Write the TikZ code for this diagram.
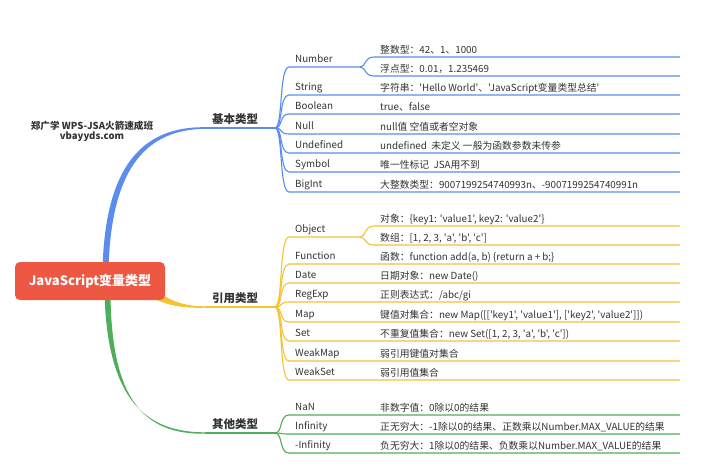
\documentclass[tikz,border=0pt]{standalone}
\usepackage{fontspec}
\newfontfamily\cjkf{Noto Sans CJK SC}
\setmainfont{Noto Sans CJK SC}
\definecolor{blueB}{HTML}{5B8DEF}
\definecolor{yellowB}{HTML}{F5C232}
\definecolor{greenB}{HTML}{4DAF5A}
\definecolor{redN}{HTML}{EE5843}
\definecolor{txtC}{HTML}{333333}
\tikzset{
  conn/.style={line width=1.1pt},
  txt/.style={font=\cjkf\fontsize{9.8}{11}\selectfont, text=txtC, inner sep=0pt, anchor=base west},
  grp/.style={font=\cjkf\fontsize{11.5}{13}\selectfont\bfseries, text=txtC, inner sep=0pt, anchor=base west},
}
% #1 colour, #2 hub x, #3 hub y, #4 row y, #5 key, #6 value
\newcommand\leafrow[6]{%
  \coordinate (s#4) at (289,#4);
  \coordinate (e#4) at (680,#4);
  \draw[#1, conn] (h#3) .. controls (283,#3) and (279,#4) .. (s#4) -- (e#4);
  \node[txt] (k#4) at (295,#4-4.5) {#5};
  \node[txt] (v#4) at (380,#4-4) {#6};
}
% sub row for Number / Object: #1 colour, #2 parent y, #3 row y, #4 value
\newcommand\subrow[4]{%
  \coordinate (t#3) at (374,#3);
  \coordinate (f#3) at (680,#3);
  \draw[#1, conn] (p#2) .. controls (366,#2) and (364,#3) .. (t#3) -- (f#3);
  \node[txt] (v#3) at (380,#3-4) {#4};
}
\begin{document}
\begin{tikzpicture}[x=1pt,y=-1pt]
\useasboundingbox (0,0) rectangle (720,475);
\fill[white] (0,0) rectangle (720,475);

% main branches (tapered)
\fill[blueB] (102.5,270) .. controls (105,160) and (147,126.6) .. (205,127.2)
   -- (205,128.8) .. controls (149,129.6) and (111,164) .. (108.5,270) -- cycle;
\fill[yellowB] (155,290) .. controls (172,302) and (185,306.2) .. (205,306.3)
   -- (205,307.7) .. controls (183,308.5) and (166,305) .. (153,298) -- cycle;
\fill[greenB] (104.5,292) .. controls (107,400) and (146,432.4) .. (205,432.3)
   -- (205,433.7) .. controls (144,434.6) and (111,400) .. (110.5,292) -- cycle;

\coordinate (g1) at (205,128);
\coordinate (h128) at (275,128);
\draw[blueB, line width=1.6pt] (g1) -- (h128);
\coordinate (g2) at (205,307);
\coordinate (h307) at (275,307);
\draw[yellowB, line width=1.6pt] (g2) -- (h307);
\coordinate (g3) at (205,433);
\coordinate (h433) at (275,433);
\draw[greenB, line width=1.6pt] (g3) -- (h433);

\node[grp] (basic) at (212,123) {基本类型};
\node[grp] (ref) at (212,302) {引用类型};
\node[grp] (oth) at (212,428) {其他类型};

% central node
\node[fill=redN, rounded corners=5pt, minimum width=150pt, minimum height=38pt,
  text=white, font=\cjkf\fontsize{13}{15}\selectfont\bfseries] (root) at (90,281) {JavaScript变量类型};

% author
\node[font=\cjkf\fontsize{9.6}{11}\selectfont\bfseries, text=txtC, align=center, inner sep=0pt] (auth) at (92,131)
  {郑广学 WPS-JSA火箭速成班\\[-1pt]vbayyds.com};

% ---------- basic types ----------
\coordinate (s67) at (289,67);
\coordinate (p67) at (360,67);
\draw[blueB, conn] (h128) .. controls (283,128) and (279,67) .. (s67) -- (p67);
\node[txt] (k67) at (295,62.5) {Number};
\subrow{blueB}{67}{57}{整数型：42、1、1000}
\subrow{blueB}{67}{76}{浮点型：0.01，1.235469}
\leafrow{blueB}{275}{128}{95}{String}{字符串：'Hello World'、'JavaScript变量类型总结'}
\leafrow{blueB}{275}{128}{114}{Boolean}{true、false}
\leafrow{blueB}{275}{128}{134}{Null}{null值 空值或者空对象}
\leafrow{blueB}{275}{128}{153}{Undefined}{undefined\ \ 未定义 一般为函数参数未传参}
\leafrow{blueB}{275}{128}{172}{Symbol}{唯一性标记\ \ JSA用不到}
\leafrow{blueB}{275}{128}{192}{BigInt}{大整数类型：9007199254740993n、-9007199254740991n}

% ---------- reference types ----------
\coordinate (s237) at (289,237);
\coordinate (p237) at (360,237);
\draw[yellowB, conn] (h307) .. controls (283,307) and (279,237) .. (s237) -- (p237);
\node[txt] (k237) at (295,232.5) {Object};
\subrow{yellowB}{237}{226}{对象：\{key1: 'value1', key2: 'value2'\}}
\subrow{yellowB}{237}{245}{数组：[1, 2, 3, 'a', 'b', 'c']}
\leafrow{yellowB}{275}{307}{264}{Function}{函数：function add(a, b) \{return a + b;\}}
\leafrow{yellowB}{275}{307}{283}{Date}{日期对象：new Date()}
\leafrow{yellowB}{275}{307}{302}{RegExp}{正则表达式：/abc/gi}
\leafrow{yellowB}{275}{307}{322}{Map}{键值对集合：new Map([['key1', 'value1'], ['key2', 'value2']])}
\leafrow{yellowB}{275}{307}{341}{Set}{不重复值集合：new Set([1, 2, 3, 'a', 'b', 'c'])}
\leafrow{yellowB}{275}{307}{361}{WeakMap}{弱引用键值对集合}
\leafrow{yellowB}{275}{307}{380}{WeakSet}{弱引用值集合}

% ---------- other types ----------
\leafrow{greenB}{275}{433}{415}{NaN}{非数字值：0除以0的结果}
\leafrow{greenB}{275}{433}{434}{Infinity}{正无穷大：-1除以0的结果、正数乘以Number.MAX\_VALUE的结果}
\leafrow{greenB}{275}{433}{453}{-Infinity}{负无穷大：1除以0的结果、负数乘以Number.MAX\_VALUE的结果}
\end{tikzpicture}
\end{document}
